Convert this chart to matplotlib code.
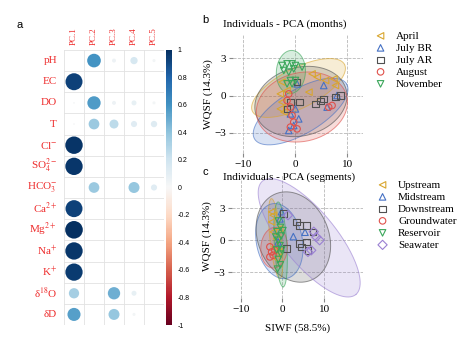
import matplotlib
matplotlib.use("Agg")
import matplotlib.pyplot as plt
import numpy as np
from matplotlib.patches import Ellipse
from matplotlib.cm import ScalarMappable
from matplotlib.colors import Normalize

plt.rcParams["mathtext.fontset"] = "stix"
SERIF = "Liberation Serif"
SANS = "Liberation Sans"
RED = "#EE2C2C"

# ---- panel a: variable contributions to PCs ----
variables = ["pH", "EC", "DO", "T", "Cl$^{-}$", "SO$_4^{2-}$", "HCO$_3^{-}$",
             "Ca$^{2+}$", "Mg$^{2+}$", "Na$^{+}$", "K$^{+}$", "δ$^{18}$O", "δD"]
pcs = ["PC.1", "PC.2", "PC.3", "PC.4", "PC.5"]
pc1 = [0.0, 0.93, 0.01, 0.01, 0.98, 0.97, 0.0, 0.93, 1.0, 0.97, 0.96, 0.34, 0.55]
pc2 = [0.60, 0.0, 0.57, 0.37, 0.0, 0.0, 0.37, 0.0, 0.0, 0.0, 0.0, 0.0, 0.0]
pc3 = [0.05, 0.0, 0.05, 0.26, 0.0, 0.0, 0.0, 0.0, 0.0, 0.0, 0.0, 0.49, 0.39]
pc4 = [0.17, 0.0, 0.08, 0.12, 0.0, 0.0, 0.39, 0.0, 0.0, 0.0, 0.0, 0.08, 0.03]
pc5 = [0.03, 0.0, 0.03, 0.13, 0.0, 0.0, 0.12, 0.0, 0.0, 0.0, 0.0, 0.0, 0.0]
cbar_ticks = [1, 0.8, 0.6, 0.4, 0.2, 0, -0.2, -0.4, -0.6, -0.8, -1]

# ---- panel b: individuals by month ----
b_groups = ["April", "July BR", "July AR", "August", "November"]
b_april_x = [3.2, 4.2, 5.8, 7.4, 7.7, 2.6, -2.6, -2.9, -2.6, -2.9, -2.2, -1.6]
b_april_y = [1.73, 1.47, 1.2, 1.33, 0.8, 0.27, 1.07, 0.13, -0.53, -1.07, -1.33, 0.4]
b_julybr_x = [5.45, 8.0, 6.1, 0.0, 0.64, -1.28, -0.32, 0.32, -0.96]
b_julybr_y = [0.8, 0.0, -0.93, -1.07, -1.87, -2.8, -2.4, 0.93, -1.47]
b_julyar_x = [0.3, 0.83, 4.8, 3.85, 8.65, 7.7, -0.96, -1.6, 5.45]
b_julyar_y = [1.07, -0.53, -0.45, -0.67, 0.0, -0.13, -0.53, -1.07, -0.27]
b_aug_x = [-1.6, -0.96, -0.64, -0.32, -0.96, 6.4, 7.05, -1.28, 0.32]
b_aug_y = [-0.4, -0.93, -1.6, -2.13, -2.53, -0.93, -0.8, 0.13, -2.67]
b_nov_x = [-2.56, -1.6, -0.64, 0.0, 1.28, -2.24, -1.28, -0.32, -0.96, 0.0, -1.6, -0.64]
b_nov_y = [2.4, 2.53, 2.53, 2.4, 2.27, 2.0, 1.87, 2.13, 1.2, 1.2, 0.93, 0.93]
# ellipse: centre and two conjugate semi-axis vectors (data units)
b_ell_center = [(0.6, 0.6), (1.0, -1.28), (1.06, -0.48), (1.25, -0.92), (-0.87, 1.88)]
b_ell_a = [(8.85, 1.88), (8.85, 2.2), (8.85, 0.6), (8.75, 0.5), (2.8, 0.15)]
b_ell_b = [(1.75, -1.42), (2.17, -1.51), (0.5, -2.75), (0.4, -2.76), (0.1, -1.72)]

# ---- panel c: individuals by segment ----
c_groups = ["Upstream", "Midstream", "Downstream", "Groundwater", "Reservoir", "Seawater"]
c_up_x = [-2.24, -2.6, -2.24, -1.43, -1.83, -1.05, -1.43, -2.6, -0.64]
c_up_y = [2.34, 1.71, 0.78, 0.15, -0.62, -1.09, -1.72, 2.65, 1.09]
c_mid_x = [-0.24, 2.6, 5.4, -1.05, -0.6]
c_mid_y = [2.67, 0.34, 0.75, -0.16, 2.0]
c_down_x = [3.33, 4.12, 5.7, 7.3, 5.7, 4.12, 4.5, 6.1, 0.95, 0.2]
c_down_y = [1.71, 1.4, 1.4, 0.78, -0.16, -0.31, -0.62, -0.94, -0.78, 2.49]
c_gw_x = [-3.02, -2.6, -3.02, -2.24, -1.83]
c_gw_y = [-0.62, -1.09, -1.56, -1.4, -0.94]
c_res_x = [-1.0, -0.5, -1.3, -0.3, -1.0, -0.6, -1.4, -0.4, -1.0, -0.5, -1.2, -0.2, 0.1, -1.6]
c_res_y = [1.8, 1.2, 0.8, 0.4, 0.0, -0.5, -0.9, -1.3, -1.8, -2.3, -2.7, -0.9, 0.9, 0.3]
c_sea_x = [1.33, 8.1, 8.9, 6.9, 6.1, 7.5]
c_sea_y = [2.34, 0.31, 0.0, -0.94, -1.09, 0.8]
c_ell_center = [(-1.64, 0.15), (-0.75, -0.08), (2.6, 0.3), (-2.0, -0.7), (-0.45, -0.39), (6.4, 0.23)]
c_ell_a = [(1.0, -3.74), (5.65, -0.3), (8.9, -0.45), (3.2, 0.0), (0.6, -3.97), (11.2, -5.3)]
c_ell_b = [(1.4, 0.0), (-0.6, 3.5), (-0.8, 4.2), (0.2, 1.9), (1.5, 0.0), (4.9, 1.6)]

GOLD = "#D9A62E"
BLUE = "#4571C4"
GRAY = "#505050"
REDP = "#E0504A"
GREEN = "#3AA65A"
PURPLE = "#9A80D2"

b_colors = [GOLD, BLUE, GRAY, REDP, GREEN]
b_markers = ["<", "^", "s", "o", "v"]
c_colors = [GOLD, BLUE, GRAY, REDP, GREEN, PURPLE]
c_markers = ["<", "^", "s", "o", "v", "D"]

fig = plt.figure(figsize=(4.74, 3.56), dpi=100)
W, H = 474.0, 356.0


def box(x0, y0, x1, y1):
    # pixel box -> figure fraction rect
    return [x0 / W, 1 - y1 / H, (x1 - x0) / W, (y1 - y0) / H]


# ---------------- panel a ----------------
vals = np.array([pc1, pc2, pc3, pc4, pc5]).T
cmap = plt.get_cmap("RdBu")
norm = Normalize(-1, 1)
axa = fig.add_axes(box(64, 50, 164, 325))
nr, nc = vals.shape
axa.set_xlim(0, nc)
axa.set_ylim(nr, 0)
cell_w = 100 / nc
cell_h = 275 / nr
for i in range(nr):
    for j in range(nc):
        v = vals[i, j]
        if v <= 0:
            continue
        d = 0.88 * np.sqrt(v)
        axa.add_patch(Ellipse((j + 0.5, i + 0.5), d, d * cell_w / cell_h,
                              facecolor=cmap(norm(v)), edgecolor="none"))
for k in range(nc + 1):
    axa.axvline(k, color="#e2e2e2", lw=0.6)
for k in range(nr + 1):
    axa.axhline(k, color="#e2e2e2", lw=0.6)
axa.axis("off")
for i, name in enumerate(variables):
    axa.text(-0.35, i + 0.5, name, ha="right", va="center", color=RED,
             fontsize=8, family=SERIF)
for j, name in enumerate(pcs):
    axa.text(j + 0.5, -0.25, name, ha="center", va="bottom", rotation=90,
             color=RED, fontsize=6.5, family=SERIF)

cax = fig.add_axes(box(166, 50, 172, 325))
cb = fig.colorbar(ScalarMappable(norm=norm, cmap=cmap), cax=cax, ticks=cbar_ticks)
cb.outline.set_visible(False)
cb.ax.tick_params(length=0, labelsize=5, pad=4)
cb.ax.set_yticklabels([f"{t:g}" for t in cbar_ticks], family=SANS)

fig.text(20 / W, 1 - 25 / H, "a", fontsize=8, family=SANS, ha="center", va="center")
fig.text(205 / W, 1 - 20 / H, "b", fontsize=8, family=SANS, ha="center", va="center")
fig.text(205 / W, 1 - 172 / H, "c", fontsize=8, family=SANS, ha="center", va="center")


def ellipse_xy(center, a, b):
    t = np.linspace(0, 2 * np.pi, 200)
    x = center[0] + a[0] * np.cos(t) + b[0] * np.sin(t)
    y = center[1] + a[1] * np.cos(t) + b[1] * np.sin(t)
    return x, y


def style_axes(ax):
    for s in ax.spines.values():
        s.set_visible(False)
    ax.grid(True, ls="--", color="#b8b8b8", lw=0.6)
    ax.set_axisbelow(True)
    ax.tick_params(length=3, color="#888888", labelsize=8, pad=2)
    for lab in ax.get_xticklabels() + ax.get_yticklabels():
        lab.set_family(SERIF)
    ax.set_ylabel("WQSF (14.3%)", fontsize=8, family=SERIF, labelpad=1)


def draw_pca(ax, groups, xs, ys, colors, markers, centers, avecs, bvecs):
    for k in range(len(groups)):
        ex, ey = ellipse_xy(centers[k], avecs[k], bvecs[k])
        ax.fill(ex, ey, color=colors[k], alpha=0.2, lw=0)
        ax.plot(ex, ey, color=colors[k], alpha=0.6, lw=0.7)
    handles = []
    for k in range(len(groups)):
        h = ax.scatter(xs[k], ys[k], marker=markers[k], s=22, facecolors="none",
                       edgecolors=colors[k], linewidths=0.8, label=groups[k], zorder=3)
        handles.append(h)
    return handles


# ---------------- panel b ----------------
axb = fig.add_axes(box(233, 35, 363, 153))
hb = draw_pca(axb, b_groups,
              [b_april_x, b_julybr_x, b_julyar_x, b_aug_x, b_nov_x],
              [b_april_y, b_julybr_y, b_julyar_y, b_aug_y, b_nov_y],
              b_colors, b_markers, b_ell_center, b_ell_a, b_ell_b)
axb.set_xlim(-12.0, 13.0)
axb.set_ylim(-4.6, 4.84)
axb.set_xticks([-10, 0, 10])
axb.set_yticks([-3, 0, 3])
style_axes(axb)
fig.text(223 / W, 1 - 24 / H, "Individuals - PCA (months)", fontsize=8,
         family=SERIF, ha="left", va="center")
fig.legend(handles=hb, loc="upper left", bbox_to_anchor=(375 / W, 1 - 31 / H),
           frameon=False, prop={"family": SERIF, "size": 8}, handlelength=1.0,
           handletextpad=0.9, labelspacing=0.2, borderpad=0, borderaxespad=0)

# ---------------- panel c ----------------
axc = fig.add_axes(box(232, 175, 363, 298))
hc = draw_pca(axc, c_groups,
              [c_up_x, c_mid_x, c_down_x, c_gw_x, c_res_x, c_sea_x],
              [c_up_y, c_mid_y, c_down_y, c_gw_y, c_res_y, c_sea_y],
              c_colors, c_markers, c_ell_center, c_ell_a, c_ell_b)
axc.set_xlim(-12.1, 19.3)
axc.set_ylim(-5.4, 6.1)
axc.set_xticks([-10, 0, 10])
axc.set_yticks([-3, 0, 3])
style_axes(axc)
axc.set_xlabel("SIWF (58.5%)", fontsize=8, family=SERIF, labelpad=7)
fig.text(223 / W, 1 - 177 / H, "Individuals - PCA (segments)", fontsize=8,
         family=SERIF, ha="left", va="center")
fig.legend(handles=hc, loc="upper left", bbox_to_anchor=(377 / W, 1 - 180 / H),
           frameon=False, prop={"family": SERIF, "size": 8}, handlelength=1.0,
           handletextpad=0.9, labelspacing=0.2, borderpad=0, borderaxespad=0)

fig.savefig("out.png", dpi=100)
